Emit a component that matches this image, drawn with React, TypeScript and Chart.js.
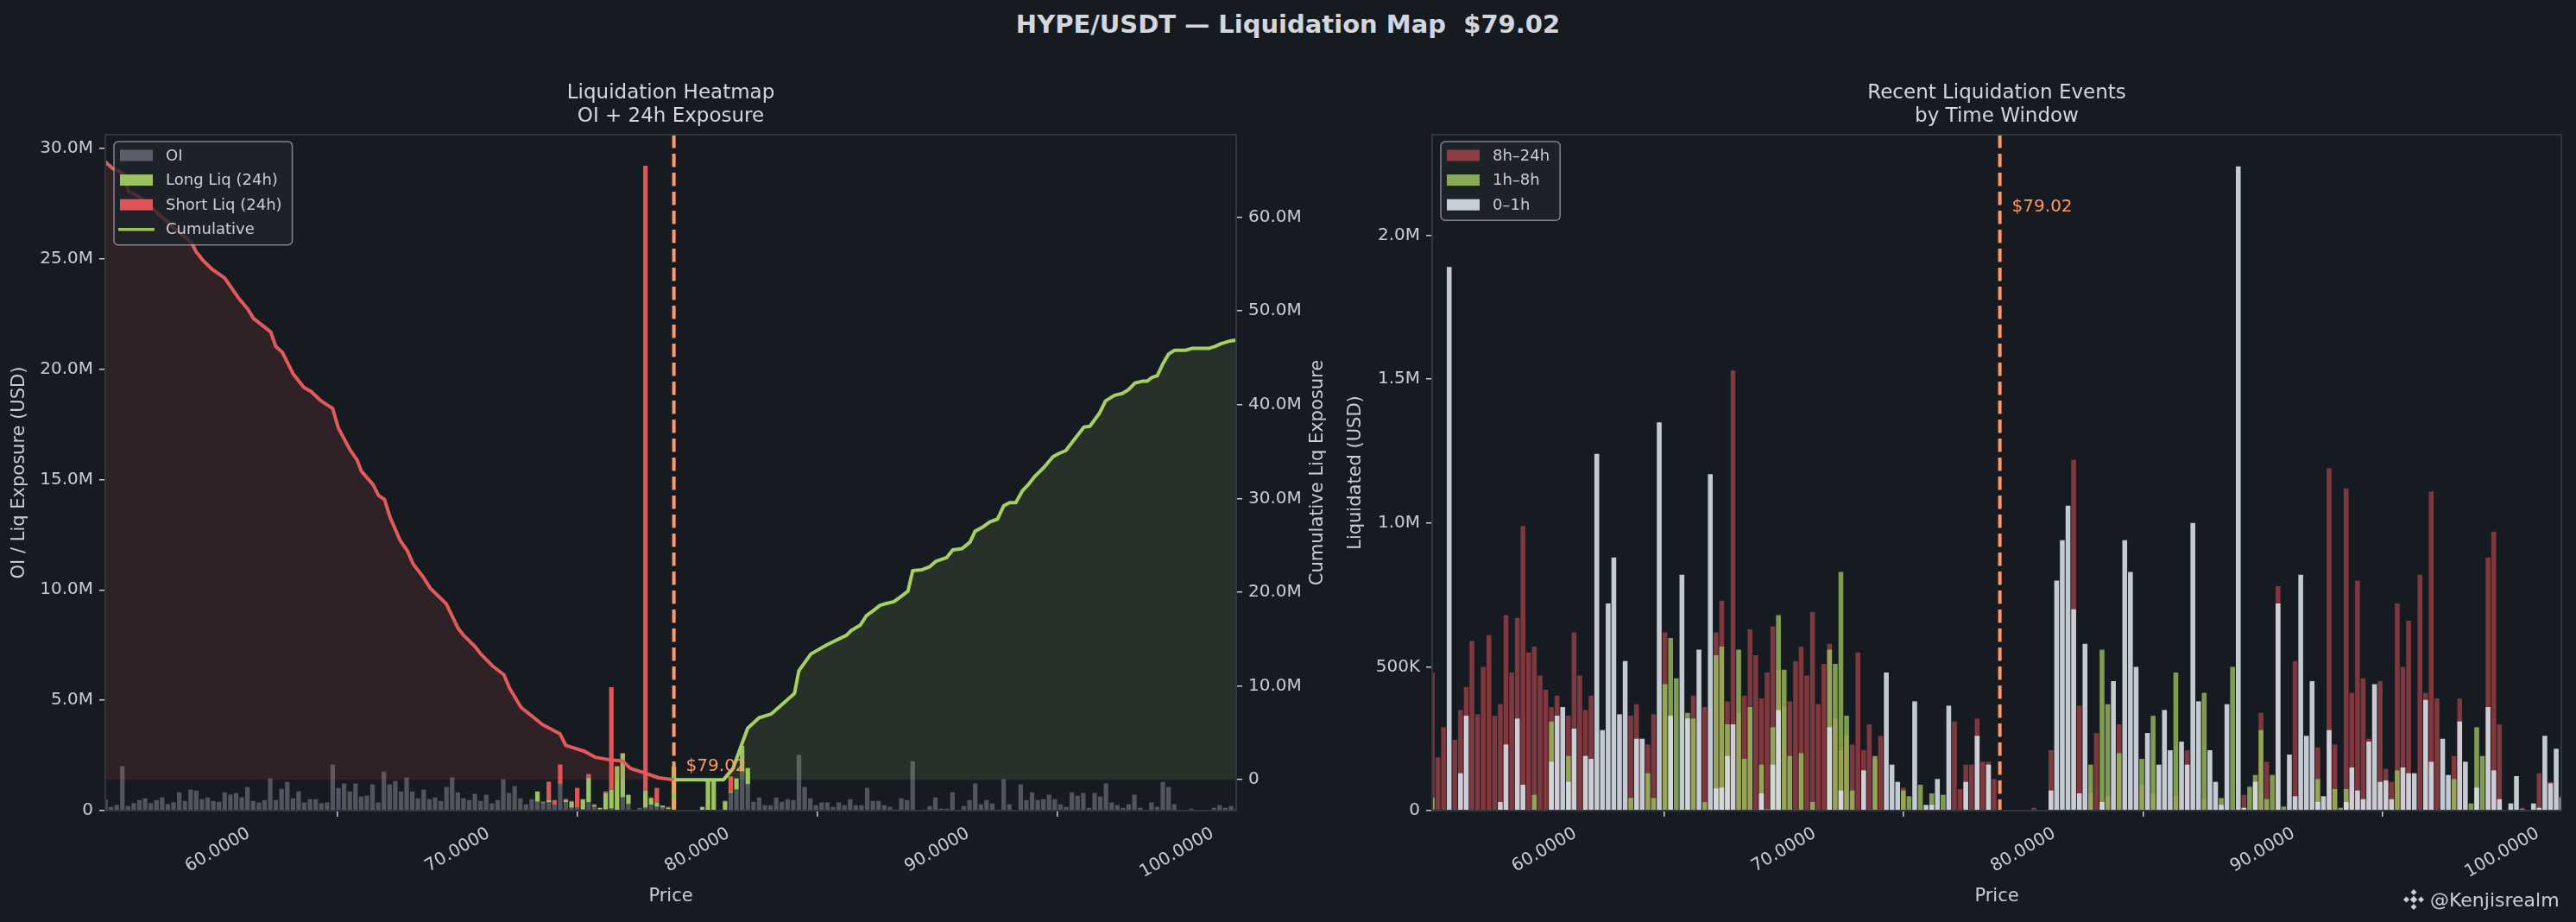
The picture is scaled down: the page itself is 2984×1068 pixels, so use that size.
import React, { useEffect, useRef } from 'react';
import { Chart, registerables } from 'chart.js';

Chart.register(...registerables);

const FONT = '"DejaVu Sans", sans-serif';
const BG = '#161a21';
const TEXT = '#c9ced6';
const TITLE = '#d3d7dd';
const SPINE = '#31353e';
const ORANGE = '#ff9a5e';

const CURRENT_PRICE = 79.02;
const PRICE_MIN = 55.31;
const PRICE_MAX = 102.47;
const BIN_WIDTH = 0.2371;
const BIN_COUNT = 201;

// liquidation bins, centred on the current price
const priceBins = Array.from({ length: BIN_COUNT }, (_, i) => +(CURRENT_PRICE + (i - 100) * BIN_WIDTH).toFixed(4));

const priceTicks = [60, 70, 80, 90, 100];
const priceTickLabels = ['60.0000', '70.0000', '80.0000', '90.0000', '100.0000'];
const exposureTicks = [0, 5, 10, 15, 20, 25, 30];
const exposureTickLabels = ['0', '5.0M', '10.0M', '15.0M', '20.0M', '25.0M', '30.0M'];
const cumulativeTicks = [0, 10, 20, 30, 40, 50, 60];
const cumulativeTickLabels = ['0', '10.0M', '20.0M', '30.0M', '40.0M', '50.0M', '60.0M'];
const liquidatedTicks = [0, 0.5, 1, 1.5, 2];
const liquidatedTickLabels = ['0', '500K', '1.0M', '1.5M', '2.0M'];

// left panel, USD millions per bin
const oiM = [
  0.5, 0.17, 0.26, 2.02, 0.21, 0.34, 0.48, 0.56, 0.34, 0.48,
  0.6, 0.3, 0.38, 0.83, 0.44, 0.95, 0.91, 0.52, 0.6, 0.44,
  0.4, 0.83, 0.73, 0.8, 0.6, 1.07, 0.44, 0.37, 0.48, 1.46,
  0.48, 0.99, 1.3, 0.56, 0.87, 0.37, 0.52, 0.52, 0.34, 0.37,
  2.09, 1.03, 1.23, 0.87, 1.23, 0.64, 0.68, 1.19, 0.37, 1.77,
  1.19, 1.34, 0.87, 1.5, 0.87, 0.56, 0.95, 0.52, 0.6, 0.44,
  1.07, 1.5, 0.83, 0.56, 0.48, 0.76, 0.44, 0.72, 0.33, 0.48,
  1.42, 0.8, 1.11, 0.56, 0.29, 0.52, 0.4, 0.33, 0.37, 0.25,
  1.19, 0.37, 0.13, 0.13, 0.05, 0.37, 0.17, 0.05, 0.05, 0.09,
  0.01, 0.6, 0.29, 0.02, 0.13, 0.13, 0.27, 0.17, 0.13, 0.07,
  0.05, 0.02, 0.02, 0, 0, 0, 0, 0, 0, 0.02,
  0.8, 0.95, 1.77, 1.19, 0.4, 0.6, 0.25, 0.25, 0.6, 0.4,
  0.52, 0.48, 2.52, 1.07, 0.56, 0.25, 0.37, 0.37, 0.17, 0.37,
  0.25, 0.52, 0.25, 0.25, 1.03, 0.44, 0.44, 0.25, 0.17, 0.05,
  0.56, 0.48, 2.24, 0, 0.05, 0.21, 0.6, 0.09, 0.09, 0.83,
  0, 0.21, 0.48, 1.23, 0.29, 0.48, 0.33, 0.05, 1.42, 0.29,
  0, 1.19, 0.48, 0.83, 0.48, 0.52, 0.72, 0.52, 0.29, 0.17,
  0.83, 0.68, 0.8, 0.13, 0.8, 0.64, 1.23, 0.37, 0.25, 0.13,
  0.29, 0.72, 0.13, 0, 0.37, 0.17, 1.3, 1.07, 0.29, 0,
  0, 0.09, 0, 0, 0, 0.13, 0.25, 0.13, 0.21, 0.1,
  0,
];

const longLiqM = [
  0, 0, 0, 0, 0, 0, 0, 0, 0, 0,
  0, 0, 0, 0, 0, 0, 0, 0, 0, 0,
  0, 0, 0, 0, 0, 0, 0, 0, 0, 0,
  0, 0, 0, 0, 0, 0, 0, 0, 0, 0,
  0, 0, 0, 0, 0, 0, 0, 0, 0, 0,
  0, 0, 0, 0, 0, 0, 0, 0, 0, 0,
  0, 0, 0, 0, 0, 0, 0, 0, 0, 0,
  0, 0, 0, 0, 0, 0, 0.47, 0.04, 0.12, 0,
  0.04, 0.12, 0.27, 0, 0.47, 1.13, 0.08, 0.08, 0.74, 0.86,
  2.0, 1.98, 0.43, 0, 0, 0.78, 0.29, 0.2, 0.1, 0.07,
  1.95, 0.02, 0.02, 0, 0, 0.17, 1.34, 1.34, 0, 0.4,
  0.08, 0.51, 1.17, 0.74, 0, 0, 0, 0, 0, 0,
  0, 0, 0, 0, 0, 0, 0, 0, 0, 0,
  0, 0, 0, 0, 0, 0, 0, 0, 0, 0,
  0, 0, 0, 0, 0, 0, 0, 0, 0, 0,
  0, 0, 0, 0, 0, 0, 0, 0, 0, 0,
  0, 0, 0, 0, 0, 0, 0, 0, 0, 0,
  0, 0, 0, 0, 0, 0, 0, 0, 0, 0,
  0, 0, 0, 0, 0, 0, 0, 0, 0, 0,
  0, 0, 0, 0, 0, 0, 0, 0, 0, 0,
  0,
];

const shortLiqM = [
  0, 0, 0, 0, 0, 0, 0, 0, 0, 0,
  0, 0, 0, 0, 0, 0, 0, 0, 0, 0,
  0, 0, 0, 0, 0, 0, 0, 0, 0, 0,
  0, 0, 0, 0, 0, 0, 0, 0, 0, 0,
  0, 0, 0, 0, 0, 0, 0, 0, 0, 0,
  0, 0, 0, 0, 0, 0, 0, 0, 0, 0,
  0, 0, 0, 0, 0, 0, 0, 0, 0, 0,
  0, 0, 0, 0, 0, 0, 0, 0.04, 0.82, 0.23,
  0.86, 0.04, 0.04, 0.9, 0, 0.16, 0.04, 0, 0.08, 4.64,
  0, 0.03, 0, 0, 0, 28.3, 0.04, 0.66, 0, 0.03,
  0, 0, 0, 0, 0, 0, 0, 0, 0, 0.03,
  0.67, 0, 0, 0, 0, 0, 0, 0, 0, 0,
  0, 0, 0, 0, 0, 0, 0, 0, 0, 0,
  0, 0, 0, 0, 0, 0, 0, 0, 0, 0,
  0, 0, 0, 0, 0, 0, 0, 0, 0, 0,
  0, 0, 0, 0, 0, 0, 0, 0, 0, 0,
  0, 0, 0, 0, 0, 0, 0, 0, 0, 0,
  0, 0, 0, 0, 0, 0, 0, 0, 0, 0,
  0, 0, 0, 0, 0, 0, 0, 0, 0, 0,
  0, 0, 0, 0, 0, 0, 0, 0, 0, 0,
  0,
];

// cumulative exposure, below price (shorts side) and above price (longs side)
const cumBelowPrices = [
  55.31, 55.61, 55.89, 56.07, 56.26, 56.62, 56.98, 57.26, 57.54, 57.91,
  58.27, 58.63, 58.92, 59.1, 59.38, 59.74, 60.29, 60.89, 61.25, 61.49,
  61.79, 62.21, 62.42, 62.69, 63.14, 63.59, 63.89, 64.31, 64.79, 65.03,
  65.51, 65.81, 65.99, 66.47, 66.71, 66.95, 67.19, 67.61, 67.91, 68.15,
  68.57, 68.87, 69.53, 70.01, 70.25, 70.73, 70.97, 71.45, 71.93, 72.17,
  72.65, 73.07, 73.55, 74.27, 74.51, 75.29, 75.73, 76.41, 76.88, 77.21,
  77.78, 78.39, 79.02,
];
const cumBelowM = [
  65.9, 65.2, 64.9, 64.6, 62.8, 62.3, 61.7, 61.0, 60.3, 59.5,
  58.6, 57.9, 57.2, 56.3, 55.4, 54.5, 53.5, 51.3, 50.2, 49.2,
  48.6, 47.75, 46.2, 45.6, 43.3, 41.85, 41.4, 40.4, 39.6, 37.5,
  35.2, 34.1, 32.9, 31.5, 30.3, 29.9, 27.95, 25.5, 24.4, 23.0,
  21.6, 20.4, 18.75, 16.2, 15.4, 14.2, 13.4, 12.15, 11.2, 9.75,
  7.7, 6.85, 5.86, 4.9, 3.67, 3.03, 2.4, 2.1, 2.0, 1.2,
  0.74, 0.2, 0,
];
const cumAbovePrices = [
  79.02, 81.09, 81.49, 81.78, 82.1, 82.57, 83.07, 84.05, 84.23, 84.73,
  85.41, 86.22, 86.41, 86.8, 87.05, 87.37, 87.62, 87.88, 88.2, 88.52,
  88.78, 88.98, 89.37, 89.68, 89.95, 90.4, 90.65, 91.04, 91.37, 91.58,
  91.87, 92.19, 92.52, 92.77, 93.02, 93.28, 93.55, 93.81, 94.07, 94.45,
  94.83, 95.08, 95.36, 95.72, 96.12, 96.37, 96.77, 97.02, 97.4, 97.72,
  97.98, 98.24, 98.56, 98.75, 98.95, 99.18, 99.4, 99.65, 99.9, 100.36,
  100.62, 101.32, 101.58, 101.84, 102.22, 102.49,
];
const cumAboveM = [
  0, 0, 1.2, 3.3, 5.5, 6.6, 7.0, 9.2, 11.6, 13.4,
  14.4, 15.4, 15.9, 16.5, 17.5, 18.1, 18.6, 18.8, 19.0, 19.6,
  20.1, 22.3, 22.4, 22.7, 23.3, 23.7, 24.5, 24.65, 25.35, 26.5,
  26.9, 27.5, 27.8, 29.2, 29.55, 29.55, 30.8, 31.5, 32.35, 33.3,
  34.45, 34.8, 35.1, 36.3, 37.6, 37.7, 39.1, 40.4, 41.0, 41.2,
  41.6, 42.3, 42.5, 42.5, 42.9, 43.1, 44.3, 45.4, 45.8, 45.8,
  46.0, 46.0, 46.2, 46.5, 46.8, 46.9,
];

// right panel, USD millions liquidated per bin and time window
const liq8hTo24hM = [
  0.48, 0.185, 0.29, 0, 0.246, 0.35, 0.43, 0.59, 0.335, 0.5,
  0.61, 0.33, 0.37, 0.68, 0.48, 0.67, 0.99, 0.55, 0.57, 0.47,
  0.42, 0.36, 0.4, 0, 0.33, 0.62, 0.47, 0.35, 0.4, 0,
  0, 0, 0, 0, 0, 0.33, 0.37, 0, 0.23, 0.335,
  0, 0.62, 0, 0, 0, 0, 0.4, 0, 0.36, 0,
  0.62, 0.73, 0.38, 1.53, 0.34, 0.4, 0.63, 0.54, 0.39, 0.48,
  0.64, 0.49, 0.36, 0.38, 0.52, 0.57, 0.47, 0.69, 0.37, 0.51,
  0.58, 0.32, 0.21, 0.26, 0.23, 0.55, 0.21, 0.3, 0.18, 0.26,
  0, 0, 0, 0.08, 0, 0, 0, 0, 0, 0,
  0, 0, 0.31, 0.075, 0.16, 0.16, 0.32, 0.17, 0.17, 0.11,
  0, 0, 0, 0, 0, 0, 0.01, 0, 0, 0.21,
  0, 0, 0, 1.22, 0.365, 0, 0.06, 0.27, 0, 0.05,
  0, 0.3, 0, 0, 0, 0.09, 0, 0.06, 0, 0,
  0, 0.05, 0, 0.21, 0, 0, 0.04, 0, 0, 0,
  0, 0, 0, 0.055, 0, 0, 0.34, 0.17, 0, 0.78,
  0, 0, 0.52, 0, 0, 0, 0.22, 0, 1.19, 0.23,
  0, 1.12, 0.41, 0.8, 0.46, 0.25, 0, 0.45, 0.145, 0.1,
  0.72, 0.5, 0.66, 0, 0.82, 0.41, 1.11, 0.39, 0, 0,
  0.19, 0.39, 0, 0, 0, 0, 0.88, 0.97, 0.3, 0,
  0, 0, 0.01, 0, 0, 0.13, 0, 0.1, 0, 0.05,
  0,
];

const liq1hTo8hM = [
  0.044, 0, 0, 0, 0, 0, 0, 0, 0, 0,
  0, 0, 0, 0, 0, 0, 0, 0, 0.055, 0,
  0, 0.31, 0, 0, 0.19, 0, 0, 0, 0, 0,
  0, 0, 0, 0, 0, 0.044, 0, 0, 0.13, 0.044,
  0, 0.44, 0.6, 0.46, 0, 0.34, 0.32, 0, 0.03, 0,
  0.54, 0.57, 0.3, 0, 0.56, 0.18, 0.36, 0, 0.16, 0.005,
  0.29, 0.68, 0.49, 0.19, 0, 0.2, 0, 0.03, 0, 0,
  0.56, 0.51, 0.83, 0.33, 0.07, 0, 0, 0, 0.19, 0,
  0, 0, 0, 0.07, 0.05, 0, 0.09, 0, 0.06, 0,
  0.055, 0, 0, 0, 0, 0, 0, 0, 0, 0,
  0, 0, 0, 0, 0, 0, 0, 0, 0, 0,
  0, 0, 0, 0, 0, 0, 0.16, 0, 0.56, 0.37,
  0, 0.2, 0, 0, 0, 0.18, 0, 0.33, 0, 0,
  0, 0.48, 0, 0, 0, 0, 0.41, 0, 0, 0.044,
  0, 0.5, 0, 0, 0.083, 0.124, 0.28, 0.04, 0.124, 0,
  0.014, 0, 0, 0, 0, 0, 0.11, 0, 0, 0.075,
  0.01, 0.075, 0, 0, 0, 0, 0, 0, 0, 0,
  0.14, 0, 0, 0, 0, 0, 0, 0, 0, 0,
  0.11, 0, 0, 0.025, 0.29, 0.19, 0, 0, 0, 0,
  0, 0, 0.005, 0, 0, 0, 0, 0, 0, 0,
  0,
];

const liq0hTo1hM = [
  0, 0, 0, 1.89, 0, 0.13, 0.33, 0, 0, 0,
  0, 0, 0.03, 0.23, 0, 0.32, 0.09, 0, 0, 0,
  0, 0.17, 0.33, 0.36, 0.1, 0.285, 0, 0.19, 0.18, 1.24,
  0.28, 0.72, 0.88, 0.335, 0.52, 0, 0.25, 0.25, 0, 0,
  1.35, 0, 0.33, 0, 0.82, 0.32, 0, 0.56, 0, 1.17,
  0.077, 0.08, 0.19, 0.3, 0, 0, 0, 0, 0.06, 0,
  0.16, 0.35, 0, 0, 0, 0, 0, 0, 0, 0,
  0.29, 0, 0.07, 0, 0, 0, 0.14, 0, 0, 0,
  0.48, 0.16, 0.1, 0, 0, 0.38, 0, 0.02, 0.02, 0.11,
  0, 0.365, 0, 0, 0.1, 0, 0.26, 0, 0.16, 0,
  0, 0, 0, 0, 0, 0, 0, 0, 0, 0.07,
  0.8, 0.94, 1.06, 0.7, 0.06, 0.58, 0, 0, 0.03, 0,
  0.45, 0, 0.94, 0.83, 0.5, 0, 0.27, 0, 0.16, 0.35,
  0.21, 0, 0.24, 0.16, 1.0, 0.38, 0, 0.21, 0.1, 0.02,
  0.37, 0, 2.24, 0.01, 0, 0.1, 0, 0, 0, 0.72,
  0, 0.195, 0.05, 0.82, 0.26, 0.45, 0.03, 0.05, 0.28, 0,
  0, 0.03, 0.15, 0.07, 0.04, 0.24, 0.44, 0.1, 0.105, 0.04,
  0, 0.15, 0.13, 0.13, 0, 0.385, 0.17, 0, 0.25, 0.124,
  0, 0.31, 0.17, 0, 0.08, 0, 0.36, 0.14, 0.04, 0,
  0.025, 0.12, 0, 0, 0.025, 0.01, 0.26, 0.095, 0.215, 0.046,
  0,
];

type LegendItem = { label: string; color: string; kind: 'box' | 'line' };

interface DecorOptions {
  titleLines: string[];
  yTitle: string;
  yTitleX: number;
  y2Title?: string;
  y2TitleX?: number;
  legend: LegendItem[];
  priceLabelValue: number;
}

function drawText(
  ctx: CanvasRenderingContext2D,
  text: string,
  x: number,
  y: number,
  size: number,
  color: string,
  align: CanvasTextAlign = 'center',
  rotation = 0,
  weight = 'normal',
) {
  ctx.save();
  ctx.font = `${weight} ${size}px ${FONT}`;
  ctx.fillStyle = color;
  ctx.textAlign = align;
  ctx.textBaseline = 'middle';
  ctx.translate(x, y);
  if (rotation) ctx.rotate(rotation);
  ctx.fillText(text, 0, 0);
  ctx.restore();
}

function drawLegend(ctx: CanvasRenderingContext2D, x: number, y: number, items: LegendItem[]) {
  ctx.save();
  ctx.font = `18px ${FONT}`;
  const widest = Math.max(...items.map((it) => ctx.measureText(it.label).width));
  const w = 60 + widest + 12;
  const h = 16 + (items.length - 1) * 28.6 + 18;
  ctx.beginPath();
  ctx.roundRect(x, y, w, h, 5);
  ctx.fillStyle = 'rgba(31,35,43,0.8)';
  ctx.fill();
  ctx.lineWidth = 1.5;
  ctx.strokeStyle = 'rgba(185,190,197,0.65)';
  ctx.stroke();
  items.forEach((it, i) => {
    const cy = y + 16 + i * 28.6;
    if (it.kind === 'box') {
      ctx.fillStyle = it.color;
      ctx.fillRect(x + 7, cy - 6.5, 38, 13);
    } else {
      ctx.strokeStyle = it.color;
      ctx.lineWidth = 3.5;
      ctx.beginPath();
      ctx.moveTo(x + 5, cy);
      ctx.lineTo(x + 47, cy);
      ctx.stroke();
    }
    ctx.fillStyle = TEXT;
    ctx.textAlign = 'left';
    ctx.textBaseline = 'middle';
    ctx.fillText(it.label, x + 60, cy + 1);
  });
  ctx.restore();
}

function makeDecor(o: DecorOptions) {
  return {
    id: 'decor',
    afterDatasetsDraw(chart: any) {
      const { ctx, chartArea: a, scales } = chart;
      const px = scales.x.getPixelForValue(CURRENT_PRICE);
      ctx.save();
      ctx.strokeStyle = ORANGE;
      ctx.lineWidth = 4;
      ctx.setLineDash([15.5, 6.5]);
      ctx.beginPath();
      ctx.moveTo(px, a.top);
      ctx.lineTo(px, a.bottom);
      ctx.stroke();
      ctx.restore();
      drawText(ctx, `$${CURRENT_PRICE.toFixed(2)}`, px + 14, scales.y.getPixelForValue(o.priceLabelValue), 20, ORANGE, 'left');
    },
    afterDraw(chart: any) {
      const { ctx, chartArea: a, scales } = chart;
      const midX = (a.left + a.right) / 2;
      const midY = (a.top + a.bottom) / 2;

      ctx.save();
      ctx.strokeStyle = SPINE;
      ctx.lineWidth = 2;
      ctx.strokeRect(a.left, a.top, a.right - a.left, a.bottom - a.top);
      ctx.restore();

      drawText(ctx, o.titleLines[0], midX, a.top - 48, 23, TITLE);
      drawText(ctx, o.titleLines[1], midX, a.top - 21, 23, TITLE);
      drawText(ctx, 'Price', midX, chart.height - 29, 21, TEXT);
      drawText(ctx, o.yTitle, o.yTitleX, midY, 21, TEXT, 'center', -Math.PI / 2);
      if (o.y2Title) drawText(ctx, o.y2Title, o.y2TitleX as number, midY, 21, TEXT, 'center', -Math.PI / 2);

      // rotated price tick labels, centred under their ticks
      ctx.save();
      ctx.font = `20px ${FONT}`;
      const ang = Math.PI / 6;
      priceTicks.forEach((v, i) => {
        const label = priceTickLabels[i];
        const w = ctx.measureText(label).width;
        const boxH = w * Math.sin(ang) + 19 * Math.cos(ang);
        drawText(ctx, label, scales.x.getPixelForValue(v), a.bottom + 17 + boxH / 2, 20, TEXT, 'center', -ang);
      });
      ctx.restore();

      drawLegend(ctx, a.left + 10, a.top + 8, o.legend);
    },
  };
}

const tickGrid = { drawOnChartArea: false, drawTicks: true, tickLength: 7, color: TEXT, lineWidth: 1.5 };
const tickFont = { family: FONT, size: 20 };

function priceAxis() {
  return {
    type: 'linear',
    min: PRICE_MIN,
    max: PRICE_MAX,
    offset: false,
    afterBuildTicks: (s: any) => { s.ticks = priceTicks.map((value) => ({ value })); },
    afterFit: (s: any) => { s.height = 129; },
    ticks: { display: false },
    grid: tickGrid,
    border: { display: false },
  };
}

function valueAxis(position: string, min: number, max: number, ticks: number[], labels: string[], width: number, extra = {}) {
  return {
    type: 'linear',
    position,
    min,
    max,
    afterBuildTicks: (s: any) => { s.ticks = ticks.map((value) => ({ value })); },
    afterFit: (s: any) => { s.width = width; },
    ticks: { color: TEXT, font: tickFont, padding: 7, callback: (v: number) => labels[ticks.indexOf(v)] ?? '' },
    grid: tickGrid,
    border: { display: false },
    ...extra,
  };
}

const barBase = { grouped: false, categoryPercentage: 1, borderWidth: 0, clip: 0 };
const lineBase = { type: 'line', yAxisID: 'y2', borderWidth: 4, pointRadius: 0, tension: 0, fill: { value: 0 }, clip: 0, borderJoinStyle: 'round' };

const App: React.FC = () => {
  const leftRef = useRef<HTMLCanvasElement>(null);
  const rightRef = useRef<HTMLCanvasElement>(null);

  useEffect(() => {
    document.body.style.margin = '0';
    document.body.style.background = BG;
    Chart.defaults.font.family = FONT;
    Chart.defaults.color = TEXT;

    const left = new Chart(leftRef.current as HTMLCanvasElement, {
      type: 'bar',
      data: {
        datasets: [
          { ...lineBase, label: 'Cumulative', data: cumBelowPrices.map((x, i) => ({ x, y: cumBelowM[i] })), borderColor: '#e35a5a', backgroundColor: 'rgba(226,88,88,0.13)' },
          { ...lineBase, label: 'Cumulative', data: cumAbovePrices.map((x, i) => ({ x, y: cumAboveM[i] })), borderColor: '#a5d163', backgroundColor: 'rgba(163,207,98,0.13)' },
          { ...barBase, label: 'OI', barPercentage: 0.8, data: priceBins.map((x, i) => ({ x, y: oiM[i] })), backgroundColor: '#50555f' },
          { ...barBase, label: 'Long Liq (24h)', barPercentage: 0.8, data: priceBins.map((x, i) => ({ x, y: longLiqM[i] })), backgroundColor: '#9cc35e' },
          { ...barBase, label: 'Short Liq (24h)', barPercentage: 0.8, data: priceBins.map((x, i) => ({ x, y: shortLiqM[i] })), backgroundColor: '#e05555' },
        ] as any,
      },
      options: {
        responsive: false,
        animation: false,
        layout: { padding: { top: 156 } },
        plugins: { legend: { display: false }, tooltip: { enabled: false } },
        scales: {
          x: priceAxis(),
          y: valueAxis('left', 0, 30.62, exposureTicks, exposureTickLabels, 122, { stacked: true }),
          y2: valueAxis('right', -3.3, 68.8, cumulativeTicks, cumulativeTickLabels, 113),
        } as any,
      },
      plugins: [makeDecor({
        titleLines: ['Liquidation Heatmap', 'OI + 24h Exposure'],
        yTitle: 'OI / Liq Exposure (USD)',
        yTitleX: 23,
        y2Title: 'Cumulative Liq Exposure',
        y2TitleX: 1527,
        priceLabelValue: 2.0,
        legend: [
          { label: 'OI', color: '#5a5f69', kind: 'box' },
          { label: 'Long Liq (24h)', color: '#9cc35e', kind: 'box' },
          { label: 'Short Liq (24h)', color: '#e05555', kind: 'box' },
          { label: 'Cumulative', color: '#9cc35e', kind: 'line' },
        ],
      })],
    });

    const right = new Chart(rightRef.current as HTMLCanvasElement, {
      type: 'bar',
      data: {
        datasets: [
          { ...barBase, label: '0–1h', barPercentage: 0.85, data: priceBins.map((x, i) => ({ x, y: liq0hTo1hM[i] })), backgroundColor: 'rgba(215,222,229,0.9)' },
          { ...barBase, label: '1h–8h', barPercentage: 0.85, data: priceBins.map((x, i) => ({ x, y: liq1hTo8hM[i] })), backgroundColor: 'rgba(157,195,95,0.78)' },
          { ...barBase, label: '8h–24h', barPercentage: 0.85, data: priceBins.map((x, i) => ({ x, y: liq8hTo24hM[i] })), backgroundColor: 'rgba(214,82,88,0.55)' },
        ] as any,
      },
      options: {
        responsive: false,
        animation: false,
        layout: { padding: { top: 156, right: 17 } },
        plugins: { legend: { display: false }, tooltip: { enabled: false } },
        scales: {
          x: priceAxis(),
          y: valueAxis('left', 0, 2.35, liquidatedTicks, liquidatedTickLabels, 114),
        } as any,
      },
      plugins: [makeDecor({
        titleLines: ['Recent Liquidation Events', 'by Time Window'],
        yTitle: 'Liquidated (USD)',
        yTitleX: 26,
        priceLabelValue: 2.1,
        legend: [
          { label: '8h–24h', color: 'rgba(214,82,88,0.6)', kind: 'box' },
          { label: '1h–8h', color: 'rgba(157,195,95,0.85)', kind: 'box' },
          { label: '0–1h', color: 'rgba(215,222,229,0.92)', kind: 'box' },
        ],
      })],
    });

    return () => {
      left.destroy();
      right.destroy();
    };
  }, []);

  return (
    <div style={{ position: 'absolute', left: 0, top: 0, width: 2984, height: 1068, background: BG, overflow: 'hidden' }}>
      <div style={{ position: 'absolute', left: 0, top: 10, width: 2984, textAlign: 'center', font: `bold 29px ${FONT}`, color: TITLE, whiteSpace: 'pre', lineHeight: '36px' }}>
        {'HYPE/USDT — Liquidation Map  $79.02'}
      </div>
      <canvas ref={leftRef} width={1545} height={1068} style={{ position: 'absolute', left: 0, top: 0, width: 1545, height: 1068 }} />
      <canvas ref={rightRef} width={1439} height={1068} style={{ position: 'absolute', left: 1545, top: 0, width: 1439, height: 1068 }} />
      <div style={{ position: 'absolute', left: 2783, top: 1027, height: 30, display: 'flex', alignItems: 'center', gap: 6, color: TEXT, font: `22px ${FONT}` }}>
        <svg width="26" height="26" viewBox="0 0 26 26">
          <g fill={TEXT}>
            <rect x="10" y="10" width="6" height="6" transform="rotate(45 13 13)" />
            <rect x="10.5" y="2" width="5" height="5" transform="rotate(45 13 4.5)" />
            <rect x="10.5" y="19" width="5" height="5" transform="rotate(45 13 21.5)" />
            <rect x="2" y="10.5" width="5" height="5" transform="rotate(45 4.5 13)" />
            <rect x="19" y="10.5" width="5" height="5" transform="rotate(45 21.5 13)" />
          </g>
        </svg>
        <span>@Kenjisrealm</span>
      </div>
    </div>
  );
};

export default App;
